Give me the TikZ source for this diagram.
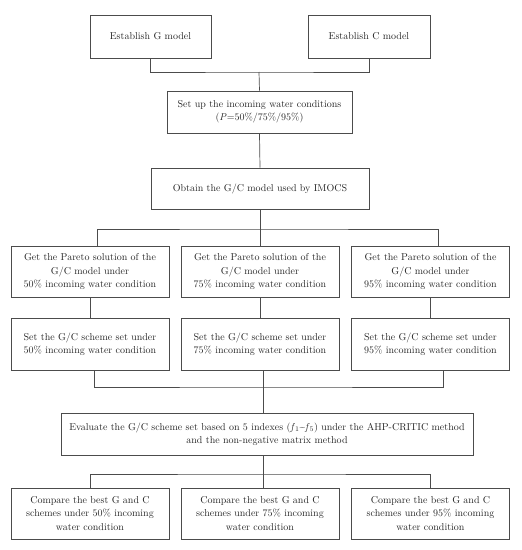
\documentclass[tikz,border=0pt]{standalone}
\begin{document}
\begin{tikzpicture}[x=1pt,y=1pt,
  box/.style={draw=black!70, line width=0.7pt, text=black!85, align=center, inner sep=0pt, font=\fontsize{10}{13.3}\selectfont},
  link/.style={draw=black!70, line width=0.7pt}]
\useasboundingbox (0,0) rectangle (522,-550);
\node[box, minimum width=121, minimum height=43] (g) at (150.5,-36.5) {Establish G model};
\node[box, minimum width=122, minimum height=43] (c) at (369,-36.5) {Establish C model};
\node[box, minimum width=185, minimum height=42] (setup) at (259.5,-112) {Set up the incoming water conditions\\(\textit{P}=50\%/75\%/95\%)};
\node[box, minimum width=218, minimum height=41] (obtain) at (260,-188.5) {Obtain the G/C model used by IMOCS};
\node[box, minimum width=158, minimum height=51] (p1) at (90,-271.5) {Get the Pareto solution of the\\G/C model under\\50\% incoming water condition};
\node[box, minimum width=158, minimum height=51] (p2) at (260,-271.5) {Get the Pareto solution of the\\G/C model under\\75\% incoming water condition};
\node[box, minimum width=158, minimum height=51] (p3) at (430.5,-271.5) {Get the Pareto solution of the\\G/C model under\\95\% incoming water condition};
\node[box, minimum width=158, minimum height=52] (s1) at (90,-344) {Set the G/C scheme set under\\50\% incoming water condition};
\node[box, minimum width=158, minimum height=52] (s2) at (260,-344) {Set the G/C scheme set under\\75\% incoming water condition};
\node[box, minimum width=158, minimum height=52] (s3) at (430.5,-344) {Set the G/C scheme set under\\95\% incoming water condition};
\node[box, minimum width=412, minimum height=42] (ev) at (267,-434) {Evaluate the G/C scheme set based on 5 indexes (\textit{f}\textsubscript{1}\textasciitilde\textit{f}\textsubscript{5}) under the AHP-CRITIC method\\and the non-negative matrix method};
\node[box, minimum width=158, minimum height=51] (c1) at (90,-513.5) {Compare the best G and C\\schemes under 50\% incoming\\water condition};
\node[box, minimum width=158, minimum height=51] (c2) at (260,-513.5) {Compare the best G and C\\schemes under 75\% incoming\\water condition};
\node[box, minimum width=158, minimum height=51] (c3) at (430.5,-513.5) {Compare the best G and C\\schemes under 95\% incoming\\water condition};
% connectors
\coordinate (j1) at (259,-72);
\draw[link] (g.south) |- (j1) -| (c.south);
\draw[link] (j1) -- (setup.north);
\draw[link] (setup.south) -- (obtain.north);
\coordinate (j2) at (260,-229);
\draw[link] (obtain.south) -- (j2);
\draw[link] ([xshift=7pt]p1.north) |- (j2) -| ([xshift=7.5pt]p3.north);
\draw[link] (j2) -- (p2.north);
\draw[link] (p1.south) -- (s1.north);
\draw[link] (p2.south) -- (s2.north);
\draw[link] (p3.south) -- (s3.north);
\coordinate (j3) at (263,-387);
\draw[link] ([xshift=4pt]s1.south) |- (j3) -| ([xshift=12.5pt]s3.south);
\draw[link] (j3) -- (j3 |- s2.south);
\draw[link] (j3) -- (j3 |- ev.north);
\coordinate (j4) at (263,-474);
\draw[link] (j4 |- ev.south) -- (j4);
\draw[link] (c1.north) |- (j4) -| (c3.north);
\draw[link] (j4) -- (j4 |- c2.north);
\end{tikzpicture}
\end{document}
